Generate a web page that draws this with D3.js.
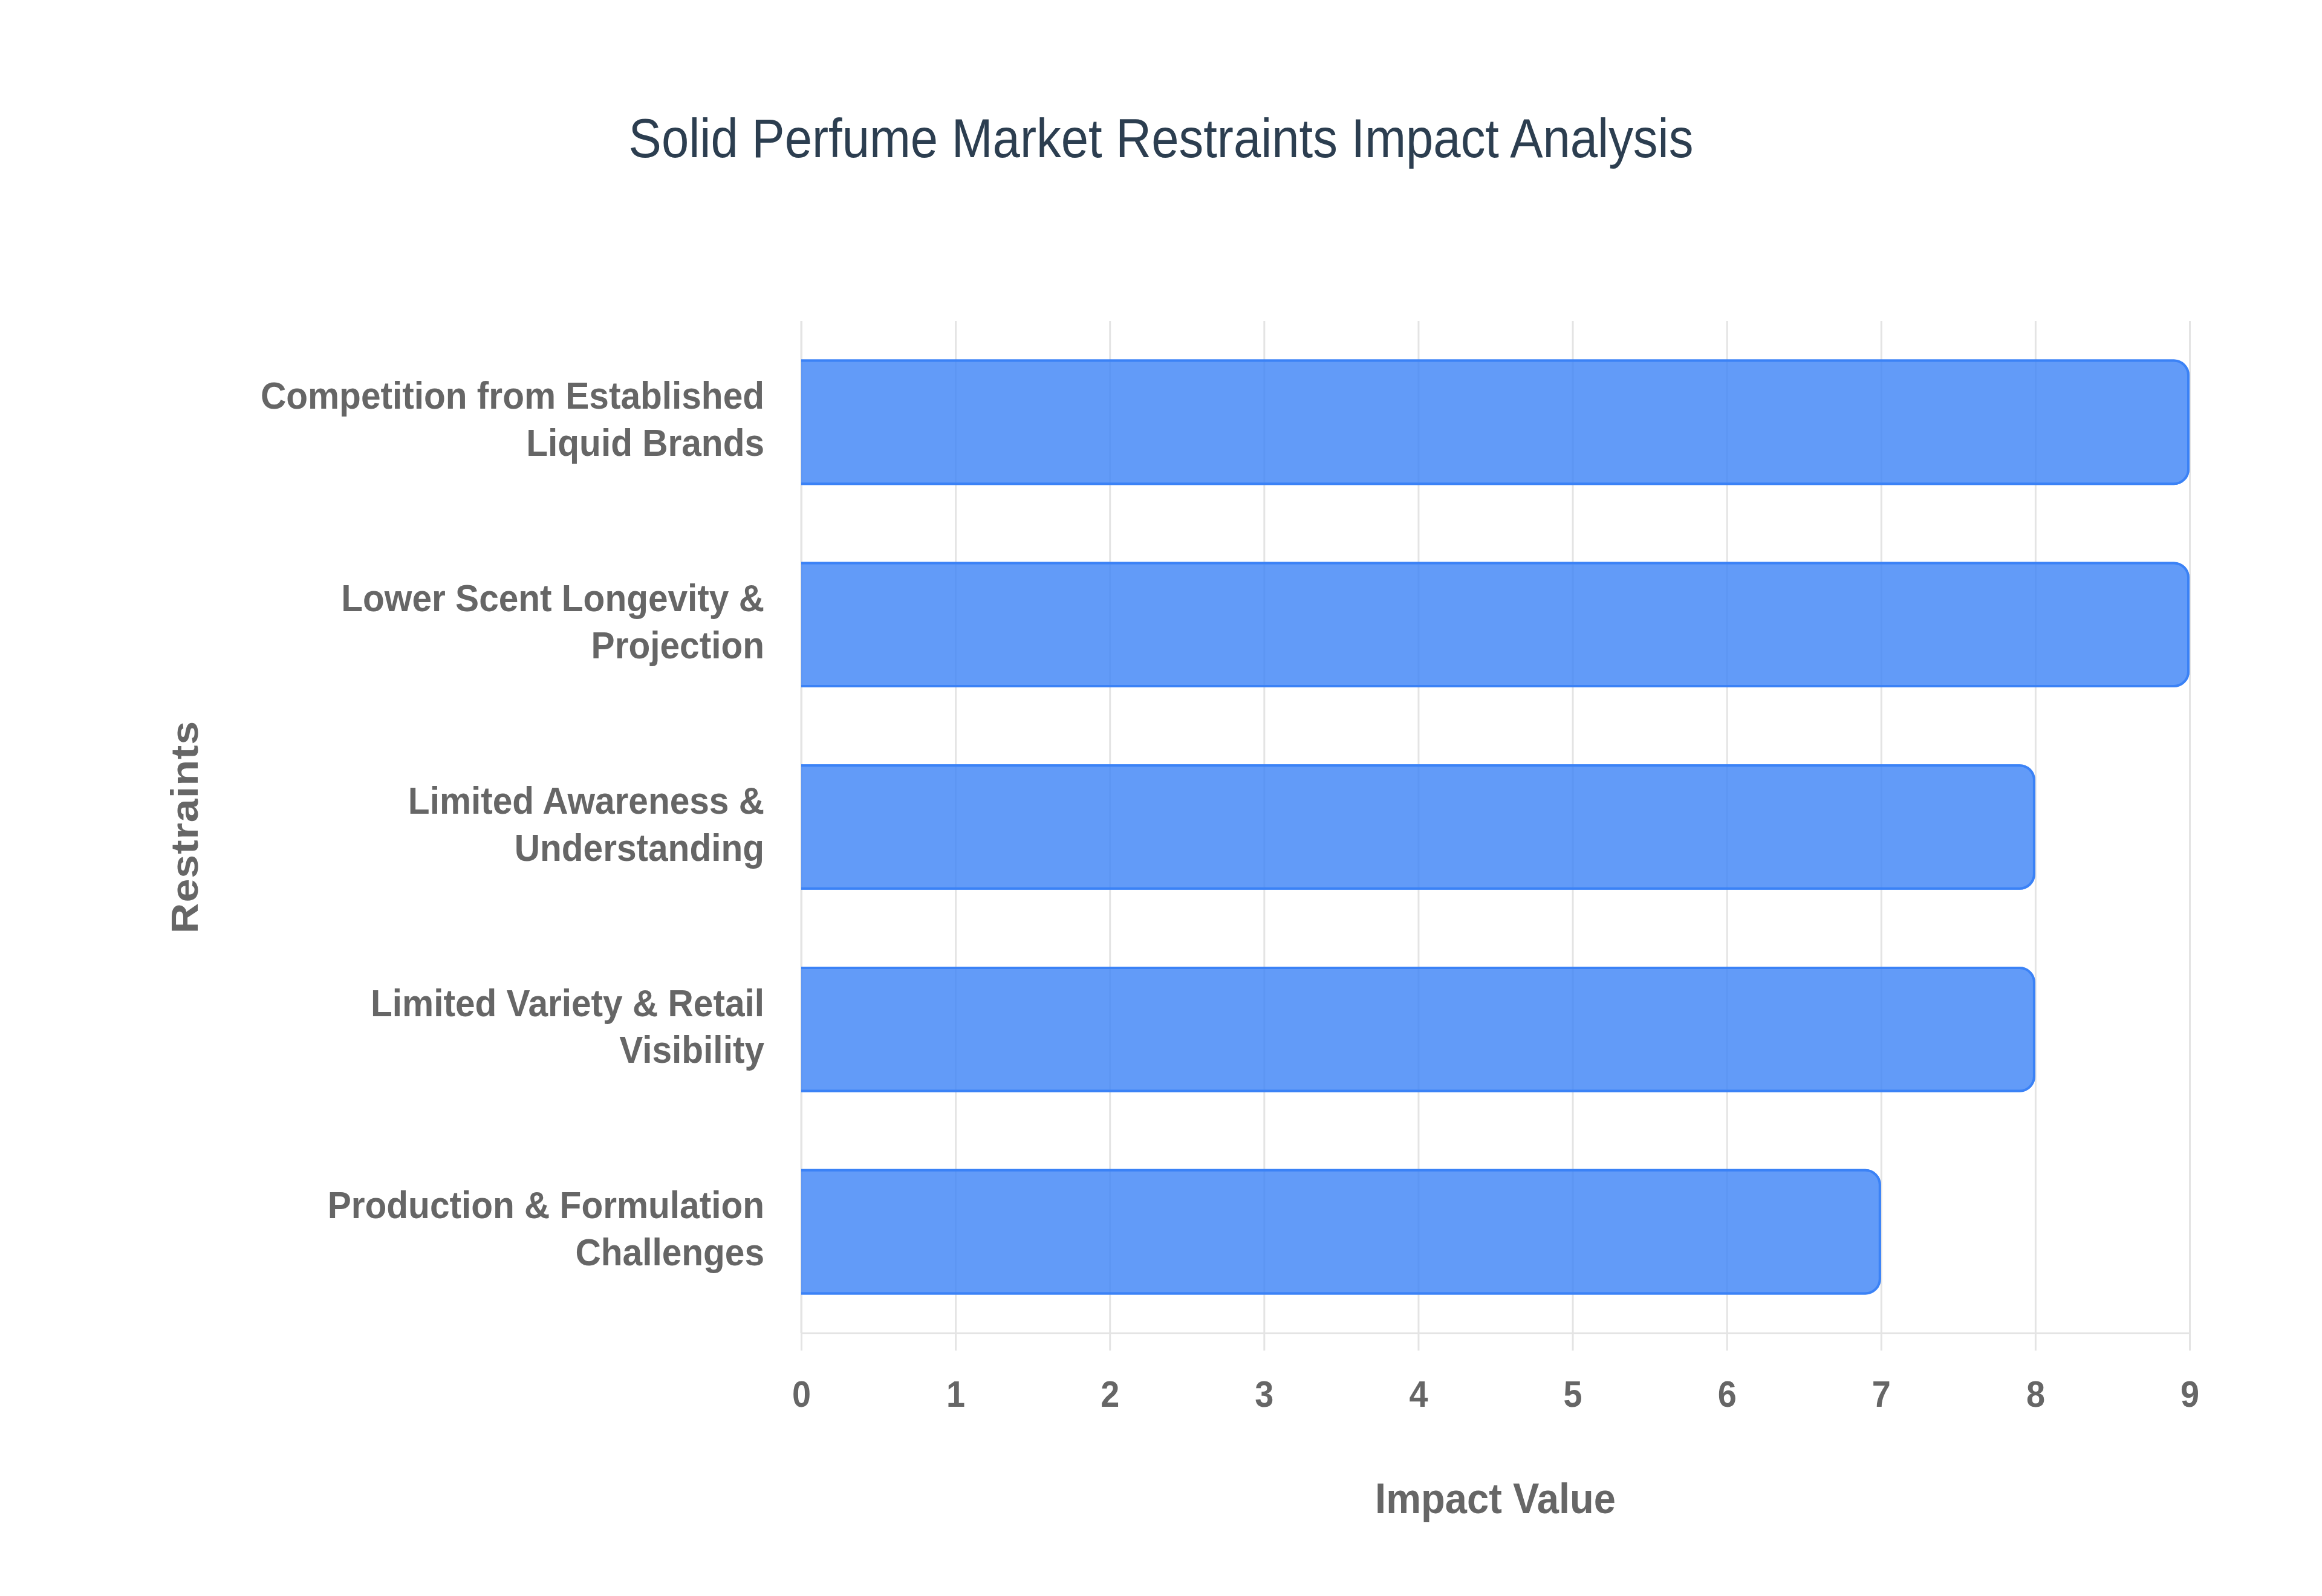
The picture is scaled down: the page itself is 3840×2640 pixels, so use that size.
<!DOCTYPE html>
<html>
<head>
<meta charset="utf-8">
<script src="https://cdn.jsdelivr.net/npm/d3@7/dist/d3.min.js"></script>
<style>
  html, body { margin: 0; padding: 0; background: #ffffff; }
  svg { display: block; }
</style>
</head>
<body>
<div id="chart"></div>
<script>
// ---------------- data ----------------
const chartTitle = "Solid Perfume Market Restraints Impact Analysis";
const xAxisTitle = "Impact Value";
const yAxisTitle = "Restraints";
const categories = [
  "Competition from Established Liquid Brands",
  "Lower Scent Longevity & Projection",
  "Limited Awareness & Understanding",
  "Limited Variety & Retail Visibility",
  "Production & Formulation Challenges"
];
const categoryLabelLines = [
  ["Competition from Established", "Liquid Brands"],
  ["Lower Scent Longevity &", "Projection"],
  ["Limited Awareness &", "Understanding"],
  ["Limited Variety & Retail", "Visibility"],
  ["Production & Formulation", "Challenges"]
];
const impactValues = [9, 9, 8, 8, 7];
const xTickValues = [0, 1, 2, 3, 4, 5, 6, 7, 8, 9];

// ---------------- layout ----------------
const W = 3840, H = 2640;
const plot = { left: 1325, right: 3621, top: 531, bottom: 2205 };
const SX = 0.9;               // horizontal text compression seen in the reference
const SXL = 0.945;            // category labels
const FONT = "'Liberation Sans', Arial, Helvetica, sans-serif";
const gridColor = "#e4e4e4";
const textColor = "#666666";

const svg = d3.select("#chart").append("svg")
  .attr("width", W).attr("height", H)
  .attr("viewBox", `0 0 ${W} ${H}`);
svg.append("rect").attr("width", W).attr("height", H).attr("fill", "#ffffff");

const x = d3.scaleLinear().domain([0, 9]).range([plot.left, plot.right]);
const y = d3.scaleBand().domain(categories).range([plot.top, plot.bottom])
  .paddingInner(0.38).paddingOuter(0.19);

// ---------------- grid ----------------
const grid = svg.append("g")
  .attr("transform", `translate(0,${plot.bottom})`)
  .call(d3.axisBottom(x).tickValues(xTickValues)
    .tickSize(-(plot.bottom - plot.top)).tickSizeOuter(0).tickFormat(""));
grid.select(".domain").remove();
grid.selectAll(".tick line").attr("stroke", gridColor).attr("stroke-width", 3);

// ---------------- x axis ----------------
const xAxis = svg.append("g")
  .attr("transform", `translate(0,${plot.bottom})`)
  .call(d3.axisBottom(x).tickValues(xTickValues)
    .tickSize(29).tickSizeOuter(0).tickPadding(49).tickFormat(d3.format("d")));
xAxis.select(".domain").attr("stroke", gridColor).attr("stroke-width", 3);
xAxis.selectAll(".tick line").attr("stroke", gridColor).attr("stroke-width", 3);
xAxis.selectAll(".tick text")
  .attr("fill", textColor)
  .attr("font-family", FONT)
  .attr("font-weight", "bold")
  .attr("font-size", 62)
  .attr("transform", `scale(${SX},1)`);

// left axis line
svg.append("line")
  .attr("x1", x(0)).attr("x2", x(0))
  .attr("y1", plot.top).attr("y2", plot.bottom)
  .attr("stroke", gridColor).attr("stroke-width", 3);

// ---------------- bars ----------------
const r = 26, bw = 4;
function barFill(d, i) {
  const x0 = x(0), x1 = x(d), y0 = y(categories[i]), h = y.bandwidth();
  const rr = Math.min(r, h / 2, x1 - x0);
  return `M${x0},${y0}H${x1 - rr}A${rr},${rr} 0 0 1 ${x1},${y0 + rr}` +
         `V${y0 + h - rr}A${rr},${rr} 0 0 1 ${x1 - rr},${y0 + h}H${x0}Z`;
}
function barStroke(d, i) {
  const x0 = x(0), x1 = x(d) - bw / 2, y0 = y(categories[i]) + bw / 2, h = y.bandwidth() - bw;
  const rr = Math.min(r - bw / 2, h / 2, x1 - x0);
  return `M${x0},${y0}H${x1 - rr}A${rr},${rr} 0 0 1 ${x1},${y0 + rr}` +
         `V${y0 + h - rr}A${rr},${rr} 0 0 1 ${x1 - rr},${y0 + h}H${x0}`;
}
const bars = svg.append("g");
bars.selectAll("path.fill").data(impactValues).join("path")
  .attr("class", "fill")
  .attr("d", barFill)
  .attr("fill", "rgba(59,130,246,0.8)");
bars.selectAll("path.edge").data(impactValues).join("path")
  .attr("class", "edge")
  .attr("d", barStroke)
  .attr("fill", "none")
  .attr("stroke", "#3b82f6")
  .attr("stroke-width", bw);

// ---------------- y category labels ----------------
const lineH = 78;
const yLabels = svg.append("g");
categories.forEach((c, i) => {
  const lines = categoryLabelLines[i];
  const cy = y(c) + y.bandwidth() / 2 - 5;
  const g = yLabels.append("g")
    .attr("transform", `translate(${plot.left - 61},${cy}) scale(${SXL},1)`);
  lines.forEach((ln, j) => {
    g.append("text")
      .attr("x", 0)
      .attr("y", (j - (lines.length - 1) / 2) * lineH)
      .attr("dy", "0.35em")
      .attr("text-anchor", "end")
      .attr("fill", textColor)
      .attr("font-family", FONT)
      .attr("font-weight", "bold")
      .attr("font-size", 62)
      .text(ln);
  });
});

// ---------------- axis titles ----------------
svg.append("text")
  .attr("transform", `translate(${(plot.left + plot.right) / 2},2503) scale(0.93,1)`)
  .attr("text-anchor", "middle")
  .attr("fill", textColor)
  .attr("font-family", FONT)
  .attr("font-weight", "bold")
  .attr("font-size", 70)
  .text(xAxisTitle);

svg.append("text")
  .attr("transform", `translate(327,${(plot.top + plot.bottom) / 2}) scale(${SX},1) rotate(-90)`)
  .attr("text-anchor", "middle")
  .attr("fill", textColor)
  .attr("font-family", FONT)
  .attr("font-weight", "bold")
  .attr("font-size", 70)
  .attr("letter-spacing", 1)
  .text(yAxisTitle);

// ---------------- title ----------------
svg.append("text")
  .attr("transform", `translate(${W / 2},260) scale(0.905,1)`)
  .attr("text-anchor", "middle")
  .attr("fill", "#2c3e50")
  .attr("font-family", FONT)
  .attr("font-size", 90)
  .text(chartTitle);
</script>
</body>
</html>
